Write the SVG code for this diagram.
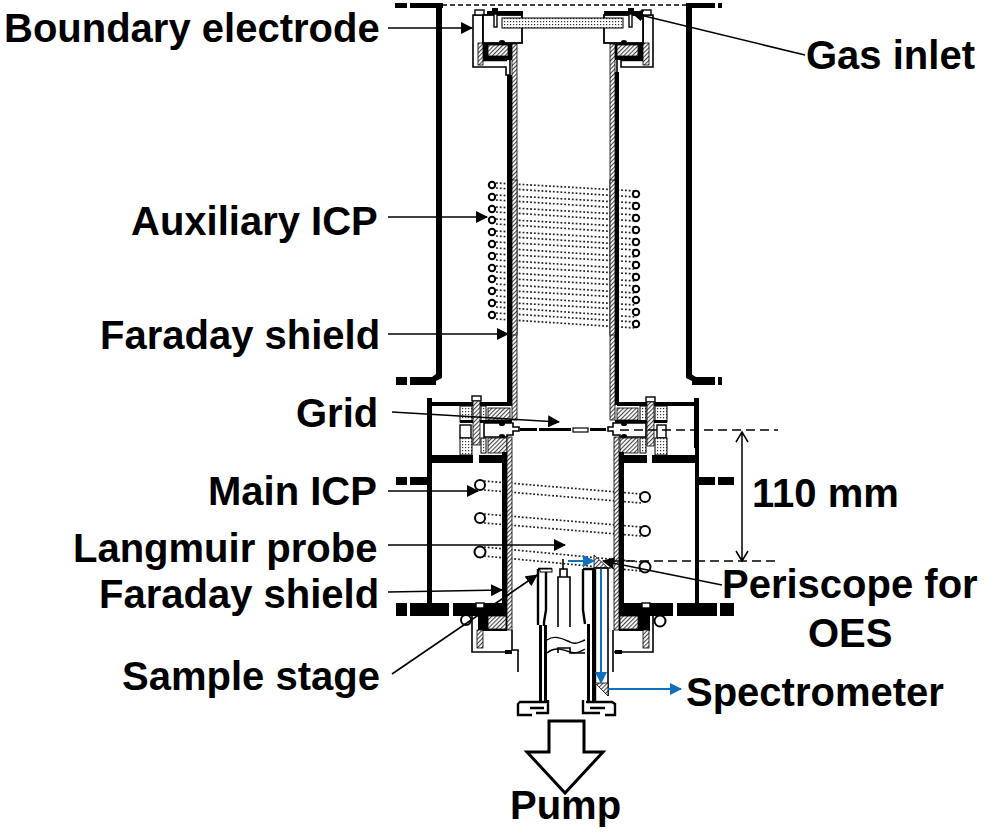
<svg xmlns="http://www.w3.org/2000/svg" width="984" height="832" viewBox="0 0 984 832">
<style>
text{font-family:"Liberation Sans",Arial,sans-serif;font-weight:700;font-size:40px;fill:#000}
.k{fill:#000}
.o{fill:none;stroke:#000;stroke-width:1.6}
.o2{fill:none;stroke:#000;stroke-width:2.4}
.h{fill:url(#hatch);stroke:#000;stroke-width:.8}
.s{fill:url(#stip);stroke:#000;stroke-width:1}
.w{fill:#fff;stroke:#000;stroke-width:1.4}
.c{fill:#fff;stroke:#000;stroke-width:2}
.cb{fill:#fff;stroke:#000;stroke-width:2}
.d{fill:none;stroke:#222;stroke-width:1.7;stroke-dasharray:1.8 2}
.l{fill:none;stroke:#000;stroke-width:1.6;marker-end:url(#a)}
.b{fill:none;stroke:#0f70c0;stroke-width:2;marker-end:url(#ab)}
.dash{fill:none;stroke:#000;stroke-width:1.5;stroke-dasharray:9 5}
</style>
<defs>
<pattern id="hatch" width="3" height="3" patternUnits="userSpaceOnUse" patternTransform="rotate(45)"><rect width="3" height="3" fill="#fff"/><rect width="1.1" height="3" fill="#444"/></pattern>
<pattern id="stip" width="3" height="3" patternUnits="userSpaceOnUse"><rect width="3" height="3" fill="#fff"/><rect width="1.2" height="1.2" fill="#333"/></pattern>
<marker id="a" viewBox="0 0 12 12" refX="11" refY="6" markerWidth="12" markerHeight="12" markerUnits="userSpaceOnUse" orient="auto"><path d="M0 0L12 6L0 12Z" fill="#000"/></marker>
<marker id="ab" viewBox="0 0 12 12" refX="11" refY="6" markerWidth="12" markerHeight="12" markerUnits="userSpaceOnUse" orient="auto"><path d="M0 0L12 6L0 12Z" fill="#0f70c0"/></marker>
</defs>

<g id="chamber-upper">
<rect class="k" x="395" y="3" width="12" height="5"/><rect class="k" x="410" y="3" width="33" height="5"/>
<rect class="k" x="686" y="3" width="29" height="5"/><rect class="k" x="718" y="3" width="4" height="5"/>
<path d="M442 5H686" fill="none" stroke="#000" stroke-width="1.4" stroke-dasharray="5 3"/>
<rect class="k" x="436" y="5" width="6" height="373"/><rect class="k" x="686" y="5" width="6" height="373"/>
<rect class="k" x="396" y="377" width="11" height="8"/><rect class="k" x="410" y="377" width="22" height="8"/>
<rect class="k" x="693" y="377" width="22" height="8"/><rect class="k" x="718" y="377" width="4" height="8"/>
<path class="k" d="M432 377L436 374H442V378L436 381V385H432Z"/><path class="k" d="M686 374H691L696 377V385H692V381L686 378Z"/>
</g>

<g id="top-electrode">
<path d="M473 15H483V43H512V59H510V75H506V67H473Z" fill="#fff" stroke="#000" stroke-width="1.6"/>
<rect class="w" x="475" y="10" width="9" height="5"/>
<rect class="k" x="483" y="43" width="29" height="17"/><rect class="h" x="488" y="45" width="20" height="11"/>
<path d="M478 60H506V59" fill="none" stroke="#000" stroke-width="2.4"/>
<rect class="w" x="478" y="15" width="0" height="50"/><rect class="h" x="478" y="43" width="5" height="22"/>
<rect x="483" y="15" width="39" height="28" fill="#fff" stroke="#000" stroke-width="1.8"/>
<rect class="k" x="487" y="11" width="36" height="4"/>
<rect class="k" x="492" y="8" width="6" height="6"/><rect class="w" x="494" y="14" width="3" height="13"/>
<path d="M617 75V59H621V67H653V15H643V43H614V43" fill="#fff" stroke="#000" stroke-width="1.6"/>
<rect class="w" x="642" y="10" width="9" height="5"/>
<rect class="k" x="614" y="43" width="29" height="17"/><rect class="h" x="617" y="45" width="21" height="11"/>
<path d="M621 60H648" fill="none" stroke="#000" stroke-width="2.4"/>
<rect class="h" x="643" y="43" width="6" height="22"/>
<rect x="604" y="15" width="39" height="28" fill="#fff" stroke="#000" stroke-width="1.8"/>
<rect class="k" x="604" y="11" width="34" height="4"/>
<rect class="k" x="628" y="8" width="6" height="6"/><rect class="w" x="629" y="14" width="3" height="13"/>
<rect class="s" x="502" y="18" width="121" height="10" stroke-width="2"/>
<ellipse class="k" cx="502" cy="42" rx="3" ry="2"/><ellipse class="k" cx="624" cy="42" rx="3" ry="2"/>
</g>

<g id="tube-upper">
<rect class="k" x="507" y="75" width="5" height="330"/><rect class="h" x="512" y="44" width="5" height="376"/>
<rect class="k" x="615" y="72" width="4" height="333"/><rect class="h" x="610" y="44" width="5" height="376"/>
</g>

<g id="auxiliary-coil">
<path class="d" d="M496 183L636 191M496 195L636 203M496 207L636 215M496 219L636 227M496 231L636 239M496 242L636 250M496 254L636 262M496 266L636 274M496 278L636 286M496 290L636 298M496 302L636 310M496 313L636 322"/>
<path class="d" d="M496 188L636 197M496 200L636 209M496 212L636 221M496 224L636 233M496 236L636 245M496 248L636 257M496 260L636 269M496 272L636 281M496 284L636 293M496 296L636 305M496 307L636 317M496 319L636 328"/>
<rect class="k" x="507" y="180" width="5" height="155"/><rect class="h" x="512" y="180" width="5" height="155"/><rect class="k" x="615" y="180" width="4" height="155"/><rect class="h" x="610" y="180" width="5" height="155"/>
<circle class="c" cx="492" cy="185" r="3.2"/><circle class="c" cx="492" cy="197" r="3.2"/><circle class="c" cx="492" cy="209" r="3.2"/><circle class="c" cx="492" cy="220" r="3.2"/><circle class="c" cx="492" cy="232" r="3.2"/><circle class="c" cx="492" cy="244" r="3.2"/><circle class="c" cx="492" cy="256" r="3.2"/><circle class="c" cx="492" cy="268" r="3.2"/><circle class="c" cx="492" cy="279" r="3.2"/><circle class="c" cx="492" cy="291" r="3.2"/><circle class="c" cx="492" cy="303" r="3.2"/><circle class="c" cx="492" cy="315" r="3.2"/>
<circle class="c" cx="636" cy="194" r="3.2"/><circle class="c" cx="636" cy="206" r="3.2"/><circle class="c" cx="636" cy="218" r="3.2"/><circle class="c" cx="636" cy="230" r="3.2"/><circle class="c" cx="636" cy="242" r="3.2"/><circle class="c" cx="636" cy="253" r="3.2"/><circle class="c" cx="636" cy="265" r="3.2"/><circle class="c" cx="636" cy="277" r="3.2"/><circle class="c" cx="636" cy="289" r="3.2"/><circle class="c" cx="636" cy="300" r="3.2"/><circle class="c" cx="636" cy="312" r="3.2"/><circle class="c" cx="636" cy="324" r="3.2"/>
</g>

<g id="middle-flange">
<rect class="k" x="427" y="398" width="5" height="50"/><rect class="k" x="694" y="398" width="5" height="50"/>
<rect class="k" x="432" y="402" width="80" height="4"/><rect class="k" x="617" y="402" width="78" height="4"/>
<rect class="s" x="460" y="406" width="12" height="16"/><rect class="s" x="481" y="406" width="5" height="16"/><rect class="h" x="488" y="408" width="22" height="12"/>
<rect class="s" x="655" y="406" width="12" height="16"/><rect class="s" x="640" y="406" width="6" height="16"/><rect class="h" x="617" y="408" width="21" height="12"/>
<rect class="k" x="460" y="420" width="52" height="3"/><rect class="k" x="615" y="420" width="52" height="3"/>
<path d="M484 423H513V427H519V431H513V435H507V437H484Z" fill="#fff" stroke="#000" stroke-width="1.6"/>
<path d="M646 423H613V427H608V431H613V435H620V437H646Z" fill="#fff" stroke="#000" stroke-width="1.6"/>
<rect class="w" x="460" y="425" width="11" height="13"/><rect class="w" x="657" y="425" width="9" height="13"/>
<rect class="s" x="460" y="438" width="12" height="17"/><rect class="s" x="481" y="438" width="5" height="15"/><rect class="h" x="488" y="438" width="19" height="15"/>
<rect class="s" x="655" y="438" width="12" height="17"/><rect class="s" x="640" y="438" width="6" height="15"/><rect class="h" x="620" y="438" width="18" height="15"/>
<rect class="w" x="472" y="396" width="9" height="5"/><rect class="h" x="473" y="401" width="7" height="44"/>
<rect class="w" x="646" y="397" width="9" height="5"/><rect class="h" x="647" y="402" width="7" height="44"/>
<ellipse class="k" cx="502" cy="424" rx="3" ry="2"/><ellipse class="k" cx="502" cy="436" rx="3" ry="2"/><ellipse class="k" cx="624" cy="424" rx="3" ry="2"/><ellipse class="k" cx="624" cy="436" rx="3" ry="2"/>
</g>

<g id="grid">
<rect class="k" x="520" y="428" width="17" height="3"/><rect class="k" x="539" y="428" width="32" height="3"/><rect x="573" y="428" width="15" height="4" fill="#fff" stroke="#000" stroke-width="1.2"/><rect class="k" x="590" y="428" width="16" height="3"/>
</g>

<g id="chamber-lower">
<rect class="k" x="427" y="455" width="46" height="8"/><rect class="k" x="479" y="455" width="28" height="8"/>
<rect class="k" x="624" y="455" width="23" height="8"/><rect class="k" x="652" y="455" width="47" height="8"/>
<rect class="k" x="427" y="448" width="5" height="158"/><rect class="k" x="695" y="448" width="4" height="158"/>
<rect class="k" x="396" y="477" width="11" height="8"/><rect class="k" x="410" y="477" width="17" height="8"/>
<rect class="k" x="699" y="477" width="16" height="8"/><rect class="k" x="718" y="477" width="16" height="8"/>
<rect class="k" x="396" y="603" width="11" height="13"/><rect class="k" x="410" y="603" width="39" height="13"/><rect class="k" x="453" y="603" width="54" height="13"/>
<rect class="k" x="620" y="603" width="53" height="13"/><rect class="k" x="677" y="603" width="40" height="13"/><rect class="k" x="720" y="603" width="14" height="13"/>
</g>

<g id="main-coil">
<path class="d" d="M484 481L641 494M484 490L641 503M484 514L641 527M484 523L641 536M484 547L641 562M484 556L641 571"/>
<circle class="cb" cx="480" cy="485" r="5"/><circle class="cb" cx="480" cy="518" r="5"/><circle class="cb" cx="480" cy="552" r="5.5"/>
<circle class="cb" cx="645" cy="497" r="5"/><circle class="cb" cx="645" cy="531" r="5"/><circle class="cb" cx="645" cy="567" r="5.5"/>
</g>

<g id="tube-lower">
<rect class="k" x="502" y="452" width="5" height="176"/><rect class="h" x="507" y="437" width="5" height="193"/>
<rect class="k" x="619" y="452" width="5" height="176"/><rect class="h" x="614" y="437" width="5" height="193"/>
</g>

<g id="bottom-flange">
<rect class="k" x="478" y="616" width="29" height="15"/><rect class="h" x="488" y="616" width="18" height="13"/>
<rect class="k" x="619" y="616" width="31" height="15"/><rect class="h" x="620" y="616" width="18" height="13"/>
<path class="o" d="M472 616V652H512M653 616V652H614"/>
<path class="o" d="M512 630V650H518V672M613 630V672"/>
<rect class="k" x="505" y="650" width="7" height="4"/><rect class="k" x="615" y="650" width="7" height="4"/>
<rect class="w" x="476" y="603" width="8" height="5"/><rect class="k" x="478" y="608" width="4" height="22"/><rect class="h" x="477" y="630" width="6" height="18"/>
<rect class="w" x="642" y="603" width="8" height="5"/><rect class="k" x="644" y="608" width="4" height="22"/><rect class="h" x="643" y="630" width="6" height="18"/>
<circle class="cb" cx="466" cy="620" r="5"/><circle class="cb" cx="660" cy="621" r="5.5"/>
</g>

<g id="sample-stage">
<path class="o2" d="M538 569H552M538 569V625M546 572V610L544 622V626"/>
<rect x="540" y="569" width="12" height="3" fill="#fff" stroke="#000"/>
<rect class="k" x="539" y="625" width="3" height="78"/><rect class="k" x="544" y="625" width="3" height="78"/>
<path class="o2" d="M583 569H595M583 569V610L585 624M595 569V702"/>
<rect class="k" x="587" y="624" width="3" height="79"/><rect class="k" x="592" y="569" width="3" height="134"/>
<path class="o2" d="M546 702H520L518 704V715H532M536 713H548V700M530 708H544M586 702H612L615 704V715H605M600 713H583V700M590 708H605"/>
<path fill="none" stroke="#000" stroke-width="1.4" d="M547 640C555 634 565 640 570 642C575 645 580 642 585 640M547 653C555 646 565 650 570 652C575 654 580 652 585 649"/>
<path class="o" d="M558 653V648H570V653H585"/>
</g>

<g id="langmuir-probe">
<path class="o" d="M563 559V569M560 577V569H567V577M558 627V577H570V627"/>
</g>

<g id="periscope">
<path class="h" d="M594 555L608 568H594Z"/>
<path class="o" d="M594 568H608V696"/>
<path class="h" d="M595 683H608V696Z"/>
</g>

<g id="connectors">
<path class="l" d="M388 28H472"/>
<path class="l" d="M805 55L632 13"/>
<path class="l" d="M388 217H487"/>
<path class="l" d="M388 334H508"/>
<path class="l" d="M392 412L559 422"/>
<path class="l" d="M388 491H478"/>
<path class="l" d="M388 545H565"/>
<path class="l" d="M388 592L502 590"/>
<path class="l" d="M392 674L537 575"/>
<path class="l" d="M722 585L603 561"/>
<path class="dash" d="M620 430H778M612 561H780"/>
<path fill="none" stroke="#000" stroke-width="1.5" d="M742 432V561M736 442L742 432L748 442M736 551L742 561L748 551"/>
<path class="b" d="M568 561H594"/>
<path class="b" d="M601 569V683"/>
<path class="b" d="M608 689H681"/>
</g>

<g id="pump"><path d="M549 721H584V752H603L565 793L527 752H549Z" fill="#fff" stroke="#000" stroke-width="3"/></g>

<g id="labels">
<text x="4" y="42">Boundary electrode</text>
<text x="806" y="69">Gas inlet</text>
<text x="131" y="235">Auxiliary ICP</text>
<text x="100" y="349">Faraday shield</text>
<text x="296" y="427">Grid</text>
<text x="208" y="505">Main ICP</text>
<text x="73" y="562">Langmuir probe</text>
<text x="99" y="608">Faraday shield</text>
<text x="722" y="598">Periscope for</text>
<text x="808" y="647">OES</text>
<text x="122" y="690">Sample stage</text>
<text x="686" y="706">Spectrometer</text>
<text x="752" y="507">110 mm</text>
<text x="510" y="819">Pump</text>
</g>
</svg>
